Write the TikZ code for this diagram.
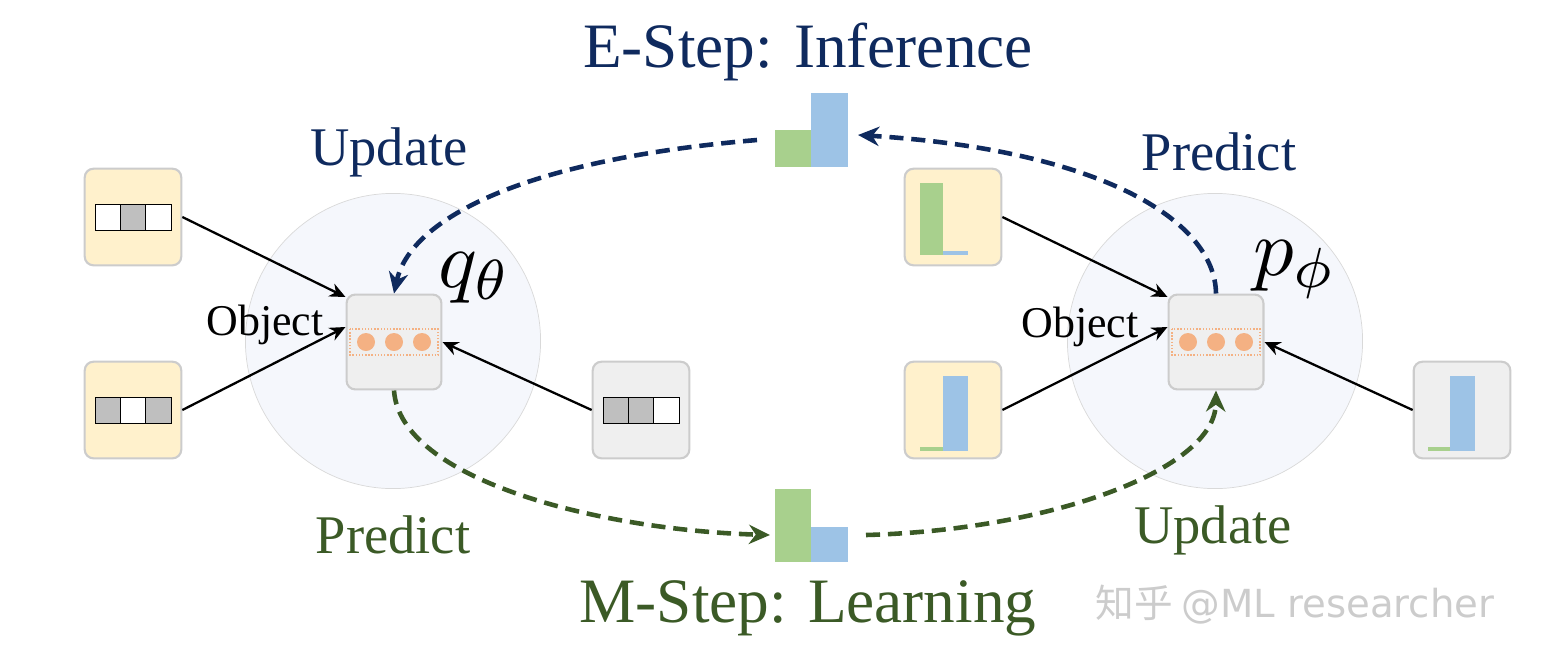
\documentclass[tikz,border=0pt]{standalone}
\usepackage{amsmath,amssymb}
\usepackage{xcolor}
\usepackage{fontspec}
\setmainfont{Liberation Serif}
\usetikzlibrary{arrows.meta,calc}
\definecolor{estep}{HTML}{0F2A5E}
\definecolor{mstep}{HTML}{3B5A26}
\definecolor{ybox}{HTML}{FFF1CC}
\definecolor{gbox}{HTML}{EFEFEF}
\definecolor{circ}{HTML}{F5F7FC}
\definecolor{bgreen}{HTML}{A8D08D}
\definecolor{bblue}{HTML}{9DC3E6}
\definecolor{dot}{HTML}{F4B183}
\tikzset{
	model/.style={circle, fill=circ, draw=black!15, minimum size=168pt},
	inbox/.style={rounded corners=5pt, minimum size=55pt, draw=black!20, line width=1.2pt},
	core/.style={rounded corners=5pt, minimum size=54pt, fill=gbox, draw=black!20, line width=1.2pt},
	feed/.style={draw=black, line width=1.3pt, -{Stealth[length=9pt,width=8pt]}},
	loop/.style={line width=2.6pt, dash pattern=on 8pt off 4.5pt, -{Stealth[length=12pt,width=11pt]}},
}
\newcommand{\strip}[4]{% center, cell fills
	\draw[fill=#2] ($(#1)+(-38,-13)$) rectangle ++(25.3,26);
	\draw[fill=#3] ($(#1)+(-12.7,-13)$) rectangle ++(25.3,26);
	\draw[fill=#4] ($(#1)+(12.7,-13)$) rectangle ++(25.3,26);
}
\begin{document}
\begin{tikzpicture}[x=0.02cm, y=-0.02cm]
	\useasboundingbox (0,0) rectangle (1562,670);
	% models
	\node[model] (qc) at (393,341) {};
	\node[model] (pc) at (1215,341) {};
	\node[core] (q) at (394,342) {};
	\node[core] (p) at (1216,342) {};
	\foreach \m in {q,p} {
		\draw[dot, densely dotted, thick] ($(\m)+(-44,-13)$) rectangle ($(\m)+(44,13)$);
		\foreach \dx in {-28,0,28}
			\fill[dot] ($(\m)+(\dx,0)$) circle (9);
	}
	\node at (475,278) {\scalebox{4.6}{$q_\theta$}};
	\node at (1295,270) {\scalebox{4.6}{$p_\phi$}};
	\node[font=\fontsize{25}{27}\selectfont] at (265,325) {Object};
	\node[font=\fontsize{25}{27}\selectfont] at (1080,327) {Object};
	% inputs of q
	\node[inbox, fill=ybox] (qa) at (133,217) {};
	\node[inbox, fill=ybox] (qb) at (133,410) {};
	\node[inbox, fill=gbox] (qr) at (641,410) {};
	\strip{qa}{white}{black!25}{white}
	\strip{qb}{black!25}{white}{black!25}
	\strip{qr}{black!25}{black!25}{white}
	\draw[feed] (qa.east) -- ($(q.west)+(0,-45)$);
	\draw[feed] (qb.east) -- ($(q.west)+(0,-15)$);
	\draw[feed] (qr.west) -- (q.east);
	% inputs of p
	\node[inbox, fill=ybox] (pa) at (953,217) {};
	\node[inbox, fill=ybox] (pb) at (953,410) {};
	\node[inbox, fill=gbox] (pr) at (1462,410) {};
	\fill[bgreen] (920,183) rectangle (943,255);
	\fill[bblue] (943,251) rectangle (968,255);
	\fill[bgreen] (920,447) rectangle (943,451);
	\fill[bblue] (943,376) rectangle (968,451);
	\fill[bgreen] (1428,447) rectangle (1450,451);
	\fill[bblue] (1450,376) rectangle (1475,451);
	\draw[feed] (pa.east) -- ($(p.west)+(0,-45)$);
	\draw[feed] (pb.east) -- ($(p.west)+(0,-15)$);
	\draw[feed] (pr.west) -- (p.east);
	% posterior / prior bars
	\fill[bgreen] (775,130) rectangle (811,167);
	\fill[bblue] (811,93) rectangle (848,167);
	\fill[bgreen] (775,489) rectangle (811,562);
	\fill[bblue] (811,527) rectangle (848,562);
	\coordinate (etop) at (757,140);
	\coordinate (etopr) at (858,135);
	\coordinate (mbot) at (770,535);
	\coordinate (mbotr) at (866,535);
	% E-step
	\draw[loop, estep] (etop) .. controls (520,160) and (410,220) .. (q.north);
	\draw[loop, estep] (p.north) .. controls (1215,220) and (1100,150) .. (etopr);
	% M-step
	\draw[loop, mstep] (q.south) .. controls (400,480) and (600,530) .. (mbot);
	\draw[loop, mstep] (mbotr) .. controls (1050,530) and (1215,470) .. (p.south);
	% labels
	\node[estep, font=\fontsize{36}{40}\selectfont] at (808,52) {E-Step: Inference};
	\node[mstep, font=\fontsize{36}{40}\selectfont] at (808,608) {M-Step: Learning};
	\node[estep, font=\fontsize{31}{34}\selectfont] at (389,152) {Update};
	\node[estep, font=\fontsize{31}{34}\selectfont] at (1219,152) {Predict};
	\node[mstep, font=\fontsize{31}{34}\selectfont] at (393,535) {Predict};
	\node[mstep, font=\fontsize{31}{34}\selectfont] at (1213,530) {Update};
	\node[black!20, font=\fontsize{22}{24}\selectfont] at (1295,605) {\fontspec{Noto Sans CJK SC}知乎 \fontspec{DejaVu Sans}@ML researcher};
\end{tikzpicture}
\end{document}
